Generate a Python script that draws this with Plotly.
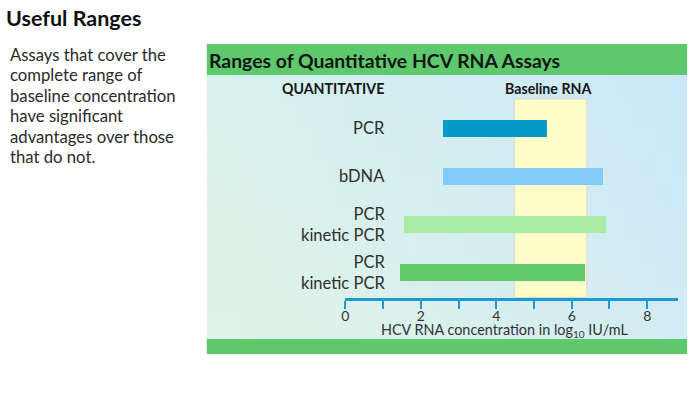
import plotly.graph_objects as go

# ---------------- data ----------------
assay_labels = ["PCR", "bDNA", "PCR<br>kinetic PCR", "PCR<br>kinetic PCR"]
range_low = [2.60, 2.60, 1.56, 1.46]
range_high = [5.36, 6.84, 6.92, 6.37]
bar_colors = ["#0399c8", "#80cbf7", "#a8eca4", "#5fc96b"]
baseline_low = 4.48
baseline_high = 6.40
tick_vals = [0, 1, 2, 3, 4, 5, 6, 7, 8]
tick_labels = ["0", "", "2", "", "4", "", "6", "", "8"]
body_lines = [
    "Assays that cover the",
    "complete range of",
    "baseline concentration",
    "have significant",
    "advantages over those",
    "that do not.",
]

W, H = 700, 393
FONT = "Lato"

def px(x):
    return x / W

def py(y):
    return 1 - y / H

rows = list(range(len(assay_labels)))

fig = go.Figure()
fig.add_trace(go.Bar(
    y=rows,
    x=[h - l for l, h in zip(range_low, range_high)],
    base=range_low,
    orientation="h",
    width=0.345,
    marker=dict(color=bar_colors, line=dict(width=0)),
    hoverinfo="skip",
    showlegend=False,
))

shapes = []
# gradient panel background (bilinear colour interpolation)
def hex2rgb(h):
    h = h.lstrip("#")
    return [int(h[i:i + 2], 16) for i in (0, 2, 4)]

tl, tr, bl, br = map(hex2rgb, ["#d8f2ec", "#cbe7fa", "#e1f5e6", "#d1ebf3"])
x0p, x1p, y0p, y1p = 204, 687, 75, 339
ncol, nrow = 32, 10
for i in range(ncol):
    for j in range(nrow):
        u = (i + 0.5) / ncol
        v = (j + 0.5) / nrow
        c = [
            round((1 - u) * (1 - v) * tl[k] + u * (1 - v) * tr[k] + (1 - u) * v * bl[k] + u * v * br[k])
            for k in range(3)
        ]
        xa = x0p + (x1p - x0p) * i / ncol
        xb = x0p + (x1p - x0p) * (i + 1) / ncol + (0.8 if i < ncol - 1 else 0)
        ya = y0p + (y1p - y0p) * j / nrow
        yb = y0p + (y1p - y0p) * (j + 1) / nrow + (0.8 if j < nrow - 1 else 0)
        shapes.append(dict(
            type="rect", xref="paper", yref="paper", layer="below",
            x0=px(xa), x1=px(xb), y0=py(yb), y1=py(ya),
            fillcolor="rgb(%d,%d,%d)" % tuple(c), line=dict(width=0),
        ))
# green header & footer bands
shapes.append(dict(type="rect", xref="paper", yref="paper", layer="below",
                   x0=px(204), x1=px(687), y0=py(75), y1=py(44),
                   fillcolor="#5ec96c", line=dict(width=0)))
shapes.append(dict(type="rect", xref="paper", yref="paper", layer="below",
                   x0=px(204), x1=px(687), y0=py(354), y1=py(339),
                   fillcolor="#5ec96c", line=dict(width=0)))
# baseline RNA band
shapes.append(dict(type="rect", xref="x", yref="y domain", layer="below",
                   x0=baseline_low, x1=baseline_high, y0=0, y1=1,
                   fillcolor="#fffdc9", line=dict(width=1, color="#d9dccb")))

annotations = []
# row labels
for r, lab in zip(rows, assay_labels):
    annotations.append(dict(
        xref="paper", yref="y", x=px(385), y=r, xanchor="right", yanchor="middle",
        text=lab, showarrow=False, align="right",
        font=dict(family=FONT, size=16.5, color="#2e2e2e"),
    ))
# left body text, one annotation per line
for k, line in enumerate(body_lines):
    annotations.append(dict(
        xref="paper", yref="paper", x=px(4), y=py(55 + 20.5 * k),
        xanchor="left", yanchor="middle", text=line, showarrow=False,
        font=dict(family=FONT, size=16.7, color="#2a2a2a"),
    ))
annotations += [
    dict(xref="paper", yref="paper", x=px(0), y=py(18), xanchor="left", yanchor="middle",
         text="<b>Useful Ranges</b>", showarrow=False,
         font=dict(family=FONT, size=21.5, color="#111111")),
    dict(xref="paper", yref="paper", x=px(204), y=py(60), xanchor="left", yanchor="middle",
         text="<b>Ranges of Quantitative HCV RNA Assays</b>", showarrow=False,
         font=dict(family=FONT, size=19.4, color="#151515")),
    dict(xref="paper", yref="paper", x=px(331), y=py(88), xanchor="center", yanchor="middle",
         text="<b>QUANTITATIVE</b>", showarrow=False,
         font=dict(family=FONT, size=14.2, color="#151515")),
    dict(xref="paper", yref="paper", x=px(547), y=py(88), xanchor="center", yanchor="middle",
         text="<b>Baseline RNA</b>", showarrow=False,
         font=dict(family=FONT, size=14.2, color="#151515")),
    dict(xref="paper", yref="paper", x=px(504), y=py(330.5), xanchor="center", yanchor="middle",
         text="HCV RNA concentration in log<sub>10</sub> IU/mL", showarrow=False,
         font=dict(family=FONT, size=14.4, color="#333333")),
]

fig.update_layout(
    width=W, height=H,
    margin=dict(l=0, r=0, t=0, b=0),
    paper_bgcolor="white",
    plot_bgcolor="rgba(0,0,0,0)",
    shapes=shapes,
    annotations=annotations,
    bargap=0,
    xaxis=dict(
        domain=[px(343.3), px(678)],
        range=[0, 8.82],
        tickmode="array", tickvals=tick_vals, ticktext=tick_labels,
        ticks="outside", ticklen=8, tickwidth=2, tickcolor="#1d9ad3",
        showline=True, linecolor="#1d9ad3", linewidth=3,
        showgrid=False, zeroline=False,
        tickfont=dict(family=FONT, size=14, color="#333333"),
        ticklabelstandoff=-4,
        fixedrange=True,
    ),
    yaxis=dict(
        domain=[py(297.5), py(99)],
        range=[3.525, -0.612],
        showticklabels=False, showgrid=False, zeroline=False, showline=False,
        ticks="", fixedrange=True,
    ),
)

fig.write_html("out.html", config={"displayModeBar": False},
               post_script="document.body.style.margin='0';")
